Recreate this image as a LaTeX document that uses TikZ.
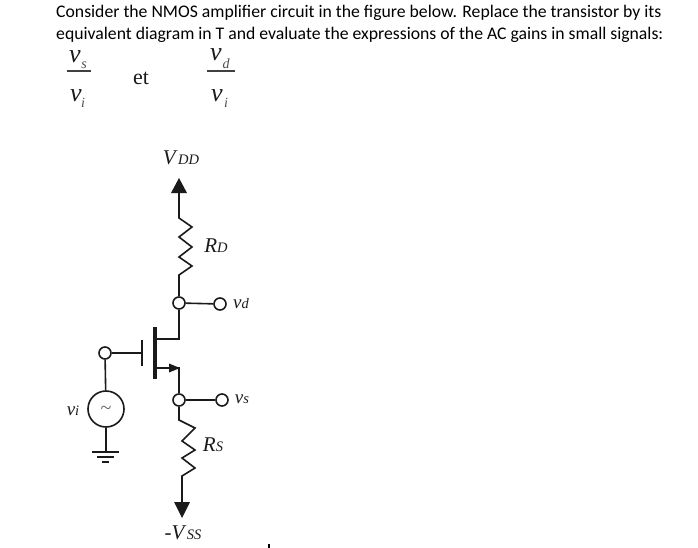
\documentclass[tikz,border=0pt]{standalone}
\usepackage{fontspec}
\setmainfont{Liberation Serif}
\newfontfamily\bodyfont{Carlito}
\usetikzlibrary{arrows.meta}
\definecolor{ink}{HTML}{1A1A1A}
\tikzset{
  wire/.style={draw=ink,line width=1.6pt,line join=miter},
  term/.style={circle,draw=ink,line width=1.6pt,fill=white,minimum size=12pt,inner sep=0pt},
  para/.style={anchor=base west,inner sep=0pt,font=\bodyfont\fontsize{17.7}{18}\selectfont,text=black},
  lab/.style={inner sep=0pt,text=ink,font=\fontsize{21}{22}\selectfont\itshape},
  sublab/.style={inner sep=0pt,text=ink,font=\fontsize{19}{20}\selectfont\itshape},
  fracv/.style={inner sep=0pt,text=ink,font=\fontsize{26}{27}\selectfont\itshape},
  fracsub/.style={inner sep=0pt,text=black!70,font=\fontsize{14}{15}\selectfont\itshape},
  fracrule/.style={draw=black!75,line width=1.1pt},
  tip/.style={fill=ink,draw=none}
}
\newcommand{\smallsub}[1]{{\fontsize{14.5}{15}\selectfont #1}}
\begin{document}
\begin{tikzpicture}[x=1pt,y=-1pt]
\useasboundingbox (0,0) rectangle (698,548);
% text
\node[para] (l1) at (56,18) {Consider the NMOS amplifier circuit in the figure below. Replace the transistor by its};
\node[para] (l2) at (56,40) {equivalent diagram in T and evaluate the expressions of the AC gains in small signals:};
% fractions
\node[fracv] (vs1) at (75,57) {v};
\node[fracsub] (vs1s) at (84,65) {s};
\coordinate (r1a) at (67,71); \coordinate (r1b) at (91,71);
\draw[fracrule] (r1a) -- (r1b);
\node[fracv] (vi1) at (76,96) {v};
\node[fracsub] (vi1s) at (83,103) {i};
\node[inner sep=0pt,text=ink,font=\fontsize{22}{23}\selectfont] (et) at (141,78) {et};
\node[fracv] (vd1) at (216,55) {v};
\node[fracsub] (vd1s) at (226,64) {d};
\coordinate (r2a) at (207,71); \coordinate (r2b) at (235,71);
\draw[fracrule] (r2a) -- (r2b);
\node[fracv] (vi2) at (217,96) {v};
\node[fracsub] (vi2s) at (226,103) {i};
% coordinates
\coordinate (vddtip) at (179,178);
\coordinate (vddbase) at (179,192);
\coordinate (rdt) at (179,218);
\coordinate (rdb) at (179,275);
\node[term] (nd) at (179,303) {};
\node[term] (ndout) at (220,304) {};
\coordinate (dcorner) at (179,339);
\coordinate (dch) at (156,339);
\coordinate (sch) at (156,368);
\coordinate (scorner) at (179,368);
\node[term] (ns) at (179,400) {};
\node[term] (nsout) at (222,400) {};
\coordinate (rst) at (179,420);
\coordinate (rsb) at (182,476);
\coordinate (vssbase) at (182,503);
\coordinate (vsstip) at (182,518);
\node[term] (ng) at (105,353) {};
\coordinate (gbar) at (142,353);
\node[circle,draw=ink,line width=1.6pt,minimum size=36pt,inner sep=0pt] (src) at (106,409) {};
\coordinate (g1) at (106,452);
% supply
\fill[tip] (vddtip) -- (171,193) -- (187,193) -- cycle;
\draw[wire] (vddbase) -- (rdt) -- (192,227) -- (179,237) -- (192,247) -- (179,257) -- (192,266) -- (rdb) -- (nd);
\draw[wire] (nd) -- (ndout);
\draw[wire] (nd) -- (dcorner) -- (dch);
% transistor
\draw[draw=ink,line width=4pt] (155,327) -- (155,379);
\draw[wire,line width=2pt] (142,340) -- (142,366);
\draw[wire] (ng) -- (gbar);
\draw[wire] (sch) -- (scorner) -- (ns);
\fill[tip] (180,368) -- (169,363.5) -- (169,372.5) -- cycle;
\draw[wire] (ns) -- (nsout);
% Rs
\draw[wire] (ns) -- (rst) -- (195,428) -- (182,441) -- (195,450) -- (182,458) -- (195,468) -- (rsb) -- (vssbase);
\fill[tip] (vsstip) -- (174,502) -- (190,502) -- cycle;
% source
\draw[wire] (ng) -- (src);
\draw[wire] (src) -- (g1);
\draw[wire] (92,452) -- (119,452);
\draw[wire] (97,457) -- (114,457);
\draw[wire] (102,462) -- (109,462);
\node[inner sep=0pt,text=black!60,font=\fontsize{20}{20}\selectfont] (tilde) at (106,410) {\char"007E};
% labels
\node[lab] (vdd) at (181,158) {V\smallsub{\,DD}};
\node[lab] (rd) at (216,246) {R\smallsub{D}};
\node[sublab] (vdl) at (241,304) {v\smallsub{d}};
\node[sublab] (vsl) at (242,399) {v\smallsub{s}};
\node[sublab] (vil) at (73,411) {v\smallsub{i}};
\node[lab] (rs) at (213,445) {R\smallsub{S}};
\node[lab] (vss) at (183,533) {-V\smallsub{\,SS}};
% tick
\coordinate (tk1) at (269,544); \coordinate (tk2) at (269,548);
\draw[draw=black,line width=1.2pt] (tk1) -- (tk2);
\end{tikzpicture}
\end{document}
